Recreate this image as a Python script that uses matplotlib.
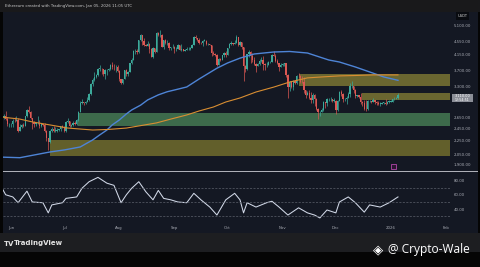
import numpy as np
import matplotlib
matplotlib.use('Agg')
import matplotlib.pyplot as plt
import matplotlib.dates as mdates
from matplotlib.patches import Rectangle

W, H = 481, 267

# ETH/USDT daily candles, 2025-05-27 .. 2026-01-05 (open = previous close)
first_open = 2560
closes = [2660, 2680, 2630, 2530, 2530,
          2540, 2600, 2590, 2610, 2420, 2480, 2520, 2510, 2680, 2810, 2770, 2640, 2580, 2530, 2550,
          2550, 2510, 2530, 2520, 2410, 2290, 2230, 2420, 2450, 2420, 2420, 2430, 2440, 2500, 2490,
          2410, 2570, 2590, 2510, 2520, 2560, 2540, 2610, 2770, 2950, 2960, 2940, 2970, 3010, 3140,
          3370, 3470, 3550, 3590, 3760, 3760, 3740, 3630, 3710, 3720, 3740, 3870, 3800, 3790, 3810, 3700,
          3480, 3390, 3490, 3720, 3610, 3680, 3910, 4010, 4260, 4260, 4220, 4600, 4770, 4560, 4440,
          4430, 4480, 4310, 4080, 4340, 4230, 4830, 4780, 4780, 4380, 4600, 4510, 4510, 4360, 4370, 4390,
          4310, 4330, 4450, 4300, 4310, 4270, 4300, 4310, 4310, 4350, 4460, 4710, 4660, 4600, 4520,
          4500, 4590, 4590, 4470, 4480, 4450, 4200, 4170, 4150, 3870, 4030, 4010, 4140, 4210, 4140,
          4350, 4480, 4510, 4480, 4520, 4690, 4460, 4530, 4370, 3830, 3750, 4160, 4240, 4120, 3990,
          3890, 3830, 3890, 3980, 3990, 3880, 3860, 3860, 3930, 3950, 4150, 4120, 3980, 3900, 3810, 3850,
          3880, 3900, 3600, 3290, 3410, 3310, 3440, 3400, 3580, 3570, 3420, 3410, 3230, 3120, 3160,
          3060, 3000, 3120, 3020, 2830, 2760, 2770, 2800, 2960, 2950, 3020, 3020, 3030, 2990, 2990,
          2800, 2990, 3190, 3140, 3020, 3040, 3060, 3130, 3320, 3320, 3240, 3090, 3110, 3070, 2960,
          2950, 2830, 2820, 2980, 2980, 2970, 3000, 2960, 2950, 2930, 2930, 2950, 2950, 2930, 2970, 2970,
          2970, 3020, 3040, 3050, 3110]
highs = [2700, 2730, 2790, 2660, 2560,
         2560, 2620, 2660, 2680, 2650, 2530, 2540, 2550, 2690, 2830, 2880, 2780, 2650, 2590, 2560,
         2680, 2610, 2560, 2540, 2560, 2430, 2300, 2430, 2480, 2500, 2480, 2460, 2450, 2510, 2520,
         2500, 2590, 2640, 2600, 2530, 2590, 2590, 2620, 2790, 2990, 3020, 2970, 2990, 3080, 3160,
         3390, 3520, 3680, 3620, 3770, 3860, 3780, 3760, 3750, 3760, 3770, 3880, 3940, 3880, 3860, 3870,
         3720, 3500, 3500, 3730, 3740, 3700, 3920, 4060, 4290, 4330, 4330, 4620, 4790, 4780, 4680,
         4480, 4560, 4500, 4350, 4380, 4350, 4880, 4890, 4950, 4800, 4620, 4650, 4600, 4530, 4390, 4480,
         4400, 4370, 4480, 4460, 4480, 4320, 4320, 4370, 4390, 4390, 4480, 4730, 4770, 4680, 4660,
         4530, 4610, 4630, 4600, 4500, 4490, 4460, 4250, 4200, 4160, 4040, 4040, 4150, 4240, 4250,
         4360, 4510, 4560, 4520, 4600, 4760, 4720, 4560, 4540, 4390, 3850, 4180, 4290, 4250, 4210,
         4080, 3900, 3900, 4020, 4090, 4110, 3900, 3950, 3970, 3960, 4170, 4250, 4160, 4030, 3920, 3900,
         3900, 3920, 3910, 3610, 3450, 3440, 3460, 3460, 3600, 3650, 3600, 3560, 3540, 3240, 3200,
         3240, 3180, 3170, 3130, 3060, 2850, 2780, 2850, 2980, 2970, 3050, 3060, 3080, 3040, 3050,
         3000, 3000, 3200, 3240, 3170, 3060, 3100, 3180, 3390, 3440, 3330, 3260, 3120, 3120, 3170,
         2980, 3010, 3000, 3000, 3000, 2990, 3060, 3010, 2980, 2980, 2970, 2960, 2960, 3040, 2990, 3010,
         3010, 3040, 3070, 3080, 3160]
lows = [2540, 2620, 2610, 2500, 2490,
        2490, 2480, 2580, 2590, 2400, 2410, 2470, 2490, 2500, 2660, 2750, 2620, 2450, 2490, 2500,
        2540, 2460, 2480, 2500, 2400, 2250, 2110, 2220, 2390, 2400, 2400, 2400, 2420, 2420, 2460,
        2390, 2400, 2560, 2490, 2490, 2510, 2520, 2520, 2600, 2760, 2930, 2900, 2930, 2960, 2990,
        3120, 3320, 3450, 3520, 3560, 3700, 3610, 3560, 3500, 3590, 3700, 3710, 3760, 3720, 3680, 3680,
        3450, 3360, 3360, 3480, 3580, 3580, 3670, 3880, 4000, 4180, 4180, 4200, 4580, 4450, 4430,
        4400, 4410, 4200, 4070, 4060, 4210, 4220, 4730, 4700, 4370, 4320, 4490, 4460, 4280, 4300, 4360,
        4210, 4260, 4310, 4280, 4270, 4250, 4260, 4280, 4290, 4300, 4340, 4440, 4640, 4560, 4470,
        4470, 4430, 4560, 4450, 4460, 4440, 4110, 4140, 4100, 3830, 3850, 3980, 4000, 4080, 4090,
        4130, 4340, 4440, 4460, 4470, 4510, 4420, 4420, 4320, 3450, 3680, 3720, 4080, 3900, 3930,
        3850, 3680, 3820, 3860, 3930, 3720, 3720, 3800, 3850, 3900, 3930, 4100, 3950, 3880, 3700, 3790,
        3840, 3820, 3550, 3060, 3200, 3270, 3230, 3360, 3370, 3520, 3400, 3390, 3170, 3050, 3110,
        3030, 2950, 2940, 2880, 2810, 2620, 2680, 2760, 2780, 2850, 2880, 2990, 2990, 2970, 2970,
        2720, 2780, 2980, 3090, 2970, 2990, 2920, 3050, 3080, 3280, 3160, 3060, 3080, 3050, 2920,
        2890, 2800, 2780, 2800, 2960, 2940, 2960, 2920, 2910, 2910, 2890, 2920, 2930, 2910, 2920, 2950,
        2960, 2960, 3010, 3030, 3040]
start_day = '2025-05-27'

# moving averages (blue = MA100, orange = MA200)
ma100_dates = ['2025-05-27', '2025-06-06', '2025-06-23', '2025-07-01', '2025-07-10', '2025-07-13',
               '2025-07-17', '2025-07-21', '2025-07-25', '2025-07-28', '2025-08-01', '2025-08-05',
               '2025-08-08', '2025-08-13', '2025-08-17', '2025-08-23', '2025-08-28', '2025-09-01',
               '2025-09-08', '2025-09-15', '2025-09-25', '2025-10-01', '2025-10-08', '2025-10-16',
               '2025-10-27', '2025-11-05', '2025-11-15', '2025-11-22', '2025-11-27', '2025-12-03',
               '2025-12-12', '2025-12-22', '2025-12-28', '2026-01-05']
ma100 = [2005, 1997, 2080, 2110, 2155, 2202, 2265, 2348, 2430, 2520, 2610, 2725,
         2803, 2900, 3010, 3120, 3190, 3229, 3300, 3493, 3770, 3913, 4050, 4171,
         4230, 4246, 4200, 4080, 3997, 3940, 3803, 3640, 3543, 3460]
ma200_dates = ['2025-05-27', '2025-06-06', '2025-06-13', '2025-06-23', '2025-07-03', '2025-07-17',
               '2025-07-26', '2025-08-05', '2025-08-12', '2025-08-22', '2025-08-30', '2025-09-08',
               '2025-09-15', '2025-09-23', '2025-09-30', '2025-10-08', '2025-10-17', '2025-10-27',
               '2025-11-05', '2025-11-15', '2025-11-23', '2025-12-03', '2025-12-12', '2025-12-22',
               '2026-01-05']
ma200 = [2664, 2627, 2575, 2520, 2465, 2431, 2441, 2465, 2502, 2557, 2627, 2705,
         2783, 2862, 2966, 3052, 3184, 3297, 3418, 3520, 3543, 3570, 3580, 3595, 3595]

# support / resistance boxes
zone_start = ['2025-06-23', '2025-07-09', '2025-11-10', '2025-12-16']
zone_low = [2025, 2510, 3320, 3000]
zone_high = [2265, 2740, 3630, 3170]
zone_color = ['#625f2b', '#3d6a4b', '#6a6630', '#6a6630']

# RSI
rsi_dates = ['2025-05-27', '2025-05-29', '2025-06-02', '2025-06-05', '2025-06-10', '2025-06-13',
             '2025-06-19', '2025-06-22', '2025-06-24', '2025-06-30', '2025-07-02', '2025-07-08',
             '2025-07-11', '2025-07-15', '2025-07-20', '2025-07-25', '2025-07-29', '2025-08-02',
             '2025-08-05', '2025-08-08', '2025-08-12', '2025-08-16', '2025-08-20', '2025-08-23',
             '2025-08-26', '2025-08-30', '2025-09-03', '2025-09-08', '2025-09-12', '2025-09-16',
             '2025-09-21', '2025-09-25', '2025-09-30', '2025-10-05', '2025-10-08', '2025-10-10',
             '2025-10-12', '2025-10-17', '2025-10-23', '2025-10-26', '2025-10-30', '2025-11-04',
             '2025-11-10', '2025-11-15', '2025-11-19', '2025-11-22', '2025-11-26', '2025-12-01',
             '2025-12-03', '2025-12-08', '2025-12-12', '2025-12-17', '2025-12-20', '2025-12-26',
             '2025-12-31', '2026-01-05']
rsi = [69, 60, 57, 49, 65, 50, 49, 35, 46, 49, 55, 57, 69, 78, 84, 76, 73, 49, 60, 69, 78, 64,
       53, 66, 55, 53, 50, 49, 62, 53, 43, 32, 53, 62, 53, 35, 49, 43, 49, 51, 43, 32, 42, 35,
       32, 28, 39, 35, 50, 57, 49, 36, 46, 43, 49, 57]

price_ticks = [5100, 4550, 4150, 3700, 3300, 2650, 2450, 2250, 2050, 1900]
rsi_ticks = [80, 60, 40]
month_ticks = ['2025-06-01', '2025-07-01', '2025-08-01', '2025-09-01', '2025-10-01',
               '2025-11-01', '2025-12-01', '2026-01-01', '2026-02-01']
month_labels = ['Jun', 'Jul', 'Aug', 'Sep', 'Oct', 'Nov', 'Dec', '2026', 'Feb']

BG = '#141823'
UP, DOWN = '#3ca99a', '#db5853'
TXT = '#a9acb5'


def fx(x):
    return x / W


def fy(y):
    return 1 - y / H


def d2n(lst):
    return mdates.date2num(np.array(lst, dtype='datetime64[D]'))


def band(x0, y0, x1, y1, color, z):
    # rectangle in screenshot pixel coordinates
    fig.patches.append(Rectangle((fx(x0), fy(y1)), fx(x1 - x0), (y1 - y0) / H,
                                 transform=fig.transFigure, facecolor=color, zorder=z))


fig = plt.figure(figsize=(W / 100, H / 100), dpi=100, facecolor='#050505')
band(3, 12, 478, 233, BG, -3)
band(0, 0, 481, 12, '#19191b', -3)
band(0, 233, 481, 252, '#1d1e21', -3)
band(3, 171, 478, 172, '#aeb0b8', -2)

ax = fig.add_axes([fx(3), fy(170), fx(447), 157 / H])
rax = fig.add_axes([fx(3), fy(222), fx(447), 50 / H])
for a in (ax, rax):
    a.set_facecolor('none')
    a.set_zorder(2)
    for s in a.spines.values():
        s.set_visible(False)

t = mdates.date2num(np.datetime64(start_day) + np.arange(len(closes)))
c = np.array(closes, float)
o = np.r_[first_open, c[:-1]]
hi = np.array(highs, float)
lo = np.array(lows, float)
col = np.where(c >= o, UP, DOWN)

left = mdates.date2num(np.datetime64('2025-06-01')) - 4.5
right = mdates.date2num(np.datetime64('2025-06-01')) + 247.3

for s, l, h, zc in zip(d2n(zone_start), zone_low, zone_high, zone_color):
    ax.add_patch(Rectangle((s, l), right - s, h - l, facecolor=zc, edgecolor='none', zorder=1))

ax.vlines(t, lo, hi, colors=col, lw=0.5, zorder=3)
ax.bar(t, np.maximum(np.abs(c - o), 8), bottom=np.minimum(o, c), width=0.75,
       color=col, lw=0, zorder=3)
ax.plot(d2n(ma100_dates), ma100, color='#4e84d6', lw=1.0, zorder=4)
ax.plot(d2n(ma200_dates), ma200, color='#d98e32', lw=0.8, zorder=4)

ax.set_yscale('log')
ax.set_ylim(1830, 5580)
ax.set_xlim(left, right)
ax.set_xticks([])
ax.minorticks_off()
ax.set_yticks(price_ticks)
ax.set_yticklabels([f'{v:,.2f}' for v in price_ticks])
ax.tick_params(axis='y', left=False, labelleft=False, right=True, labelright=True,
               length=0, pad=2.5, labelsize=2.8, labelcolor=TXT)

rax.plot(d2n(rsi_dates), rsi, color='#d2d9e8', lw=0.75)
for lvl in (70, 50, 30):
    rax.axhline(lvl, color='#5c606b', lw=0.5, ls=(0, (3, 2)))
rax.set_xlim(left, right)
rax.set_ylim(22.4, 91.4)
rax.set_yticks(rsi_ticks)
rax.set_yticklabels([f'{v:.2f}' for v in rsi_ticks])
rax.tick_params(axis='y', left=False, labelleft=False, right=True, labelright=True,
                length=0, pad=2.5, labelsize=2.8, labelcolor=TXT)
rax.set_xticks(d2n(month_ticks))
rax.set_xticklabels(month_labels)
rax.tick_params(axis='x', length=0, pad=3.2, labelsize=2.8, labelcolor=TXT)

# header and price-scale boxes
fig.text(fx(5), fy(5.5), 'Ethereum created with TradingView.com, Jan 05, 2026 11:05 UTC',
         fontsize=2.8, color='#c9c9c9', va='center')
fig.text(fx(462.5), fy(16), 'USDT', fontsize=2.6, color='#d6d6d6', ha='center', va='center',
         bbox=dict(boxstyle='square,pad=0.5', facecolor='#090b10', edgecolor='none'))
band(452, 94, 473, 102.5, '#8b8e97', 3)
fig.text(fx(462.5), fy(96.2), f'{closes[-1]:,.2f}', fontsize=2.5, color='white',
         ha='center', va='center')
fig.text(fx(462.5), fy(100.3), '12:54:51', fontsize=2.3, color='white', ha='center', va='center')
fig.patches.append(Rectangle((fx(391.5), fy(168.5)), fx(5), 5 / H, transform=fig.transFigure,
                             facecolor='#2a1530', edgecolor='#b046a8', lw=0.6, zorder=3))

# footer
fig.text(fx(4), fy(243.5), 'TV', fontsize=5, fontweight='bold', color='#e4e4e4', va='center')
fig.text(fx(13.5), fy(243.5), 'TradingView', fontsize=5, fontweight='semibold',
         color='#e4e4e4', va='center')
fig.text(fx(378), fy(250), '◈', fontsize=9.5, color='white', ha='center', va='center',
         family=['DejaVu Sans'])
fig.text(fx(388), fy(250), '@ Crypto-Wale', fontsize=8.6, color='white', va='center',
         family=['Open Sans', 'DejaVu Sans'])

fig.savefig('out.png', dpi=100, facecolor=fig.get_facecolor())
